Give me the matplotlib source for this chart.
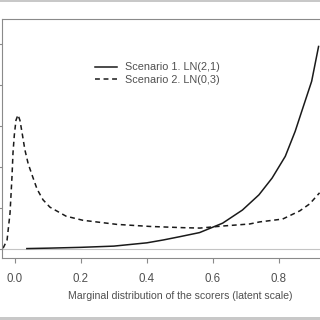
import matplotlib
matplotlib.use("Agg")
import matplotlib.pyplot as plt
from matplotlib.patches import Rectangle

plt.rcParams['font.family'] = ['Liberation Sans', 'DejaVu Sans']

# Scenario 1: LN(2,1) marginal density (latent scale)
s1_x = [0.036, 0.10, 0.20, 0.30, 0.40, 0.45, 0.50, 0.56, 0.63, 0.69,
        0.74, 0.78, 0.82, 0.85, 0.87, 0.90, 0.921]
s1_y = [0.01, 0.02, 0.04, 0.07, 0.15, 0.22, 0.30, 0.40, 0.63, 0.95,
        1.32, 1.73, 2.26, 2.87, 3.36, 4.09, 4.94]

# Scenario 2: LN(0,3)
s2_x = [-0.036, -0.024, -0.015, -0.009, -0.006, -0.002, 0.003, 0.009, 0.015,
        0.021, 0.030, 0.040, 0.052, 0.067, 0.085, 0.106, 0.155, 0.206, 0.309,
        0.409, 0.509, 0.561, 0.63, 0.712, 0.742, 0.812, 0.864, 0.894, 0.924]
s2_y = [0.02, 0.22, 0.88, 1.78, 2.35, 2.78, 3.14, 3.27, 3.14,
        2.86, 2.42, 2.08, 1.80, 1.46, 1.20, 1.02, 0.80, 0.70, 0.60,
        0.55, 0.52, 0.51, 0.56, 0.61, 0.66, 0.73, 0.93, 1.10, 1.37]

x_ticks = [0.0, 0.2, 0.4, 0.6, 0.8]
x_tick_labels = ['0.0', '0.2', '0.4', '0.6', '0.8']
y_ticks = [0, 1, 2, 3, 4, 5]

TEXT = '#505050'
EDGE = '#8a8a8a'

fig = plt.figure(figsize=(3.2, 3.2), dpi=100)
ax = fig.add_axes([1.8 / 320, 62 / 320, 356 / 320, 239 / 320])

ax.axhline(0, color='#c4c4c4', linewidth=0.8, zorder=1)
ax.plot(s1_x, s1_y, color='#1a1a1a', linewidth=1.1, label='Scenario 1. LN(2,1)')
ax.plot(s2_x, s2_y, color='#1a1a1a', linewidth=1.1, dashes=(3.2, 2.4),
        label='Scenario 2. LN(0,3)')

ax.set_xlim(-0.04, 1.04)
ax.set_ylim(-0.22, 5.61)

ax.set_xticks(x_ticks)
ax.set_xticklabels(x_tick_labels)
ax.set_yticks(y_ticks)
ax.set_yticklabels([])
ax.tick_params(axis='x', direction='out', length=3.6, width=0.8, color=EDGE,
               labelsize=8.3, labelcolor=TEXT, pad=7.5)
ax.tick_params(axis='y', direction='out', length=3.6, width=0.8, color=EDGE)

for side in ax.spines.values():
    side.set_color(EDGE)
    side.set_linewidth(0.8)

ax.set_xlabel('Marginal distribution of the scorers (latent scale)',
              fontsize=7.6, color=TEXT, labelpad=4)

fig.legend(loc='upper left', bbox_to_anchor=(90 / 320, 1 - 57 / 320),
           frameon=False, fontsize=7.8, handlelength=2.0, handletextpad=0.75,
           labelspacing=0.25, borderpad=0, labelcolor=TEXT)

# grey strips left over from the original crop
fig.patches.append(Rectangle((0, 318 / 320), 1, 2 / 320, transform=fig.transFigure,
                             facecolor='#c8c8c8', edgecolor='none'))
fig.patches.append(Rectangle((0, 0), 1, 3 / 320, transform=fig.transFigure,
                             facecolor='#c8c8c8', edgecolor='none'))

plt.savefig('out.png', dpi=100)
plt.close()
